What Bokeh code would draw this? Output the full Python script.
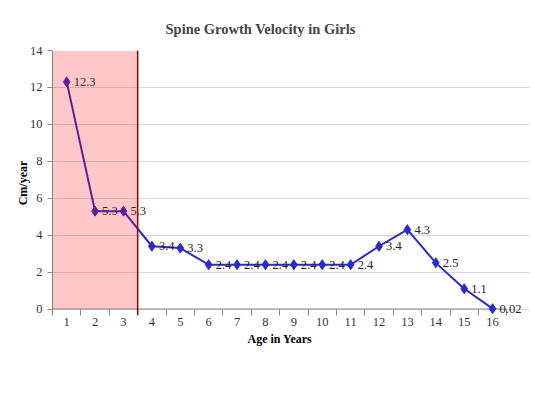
from bokeh.plotting import figure
from bokeh.models import FixedTicker, Span, BoxAnnotation, Label, Title
from bokeh.embed import file_html
from bokeh.resources import INLINE

ages = list(range(1, 17))
velocity = [12.3, 5.3, 5.3, 3.4, 3.3, 2.4, 2.4, 2.4, 2.4, 2.4, 2.4, 3.4, 4.3, 2.5, 1.1, 0.02]
value_labels = ["12.3", "5.3", "5.3", "3.4", "3.3", "2.4", "2.4", "2.4", "2.4", "2.4", "2.4", "3.4", "4.3", "2.5", "1.1", "0.02"]
y_ticks = [0, 2, 4, 6, 8, 10, 12, 14]
shade_end = 3.5

FONT = "Liberation Serif"
BLUE = "#2A2ACC"
AXIS = "#888888"

p = figure(width=535, height=400, output_backend="svg", toolbar_location=None,
           x_range=(0.5, 17.3), y_range=(-0.35, 14),
           min_border_left=52, min_border_right=6, min_border_top=50, min_border_bottom=85)
p.outline_line_color = None

p.title.text = "Spine Growth Velocity in Girls"
p.title.align = "left"
p.title.offset = 113
p.title.text_font = FONT
p.title.text_font_size = "14.5px"
p.title.text_font_style = "bold"
p.title.standoff = 28

# axes
p.xaxis.ticker = FixedTicker(ticks=ages, minor_ticks=[a - 0.5 for a in ages] + [16.5])
p.xaxis.bounds = (0.5, 16.5)
p.yaxis.ticker = FixedTicker(ticks=y_ticks, minor_ticks=[])
p.yaxis.bounds = (0, 14)
for ax in (p.xaxis[0], p.yaxis[0]):
    ax.axis_line_color = AXIS
    ax.major_label_text_font = FONT
    ax.major_label_text_font_size = "12.5px"
    ax.major_label_text_color = "#333333"
    ax.axis_label_text_font = FONT
    ax.axis_label_text_font_size = "12px"
    ax.axis_label_text_font_style = "bold"
    ax.axis_label_text_color = "#000000"
p.xaxis.axis_line_color = None
p.xaxis.major_tick_line_color = None
p.xaxis.major_tick_in = 0
p.xaxis.major_tick_out = 0
p.xaxis.minor_tick_line_color = AXIS
p.xaxis.minor_tick_in = 6
p.xaxis.minor_tick_out = 0
p.xaxis.major_label_standoff = 2
p.yaxis.major_tick_line_color = AXIS
p.yaxis.major_tick_in = 0
p.yaxis.major_tick_out = 5
p.yaxis.minor_tick_line_color = None
p.yaxis.major_label_standoff = 5
p.yaxis.axis_label = "Cm/year"
p.yaxis.axis_label_standoff = -3

p.add_layout(Title(text="Age in Years", align="left", offset=195, standoff=2,
                   text_font=FONT, text_font_size="12px", text_font_style="bold",
                   text_color="#000000"), "below")

p.xgrid.grid_line_color = None
p.ygrid.grid_line_color = "#d6d6d6"
p.ygrid.ticker = FixedTicker(ticks=y_ticks)
p.ygrid.bounds = (0.5, 16.5)

# x-axis baseline at zero, spanning the category extent
p.line(x=[ages[0] - 0.5, ages[-1] + 0.5], y=[y_ticks[0], y_ticks[0]], line_color=AXIS, line_width=1)

p.line(ages, velocity, line_color=BLUE, line_width=2)
p.scatter(ages, velocity, marker="diamond", size=10, fill_color=BLUE, line_color=BLUE)

for xv, yv, txt in zip(ages, velocity, value_labels):
    p.add_layout(Label(x=xv, y=yv, text=txt, x_offset=7, y_offset=0,
                       text_baseline="middle", text_font=FONT, text_font_size="12.5px",
                       text_color="#222222"))

p.add_layout(BoxAnnotation(left=0.5, right=shade_end, bottom=0, top=14,
                           fill_color="#ff0000", fill_alpha=0.22, line_color=None, level="overlay"))
p.add_layout(Span(location=shade_end, dimension="height", line_color="#990000", line_width=1.5))

open("out.html", "w").write(file_html(p, INLINE))
